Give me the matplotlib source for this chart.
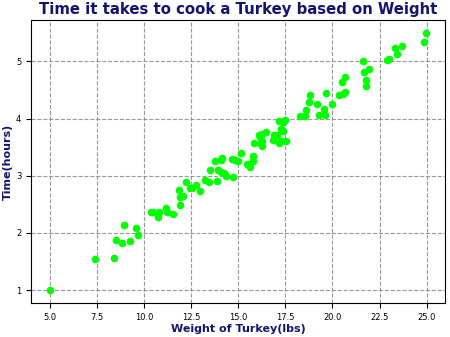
import matplotlib
matplotlib.use("Agg")
import matplotlib.pyplot as plt

# Turkey weight (lbs) and cooking time (hours)
weight = [5.0, 7.37, 8.43, 8.52, 8.84, 8.91, 9.23, 9.58, 9.70,
          10.39, 10.48, 10.77, 10.73, 11.15, 11.22, 11.56, 11.90, 11.93, 12.06,
          11.83, 12.23, 12.44, 12.55, 12.76, 12.97, 13.21, 13.47, 13.49, 13.79,
          13.89, 13.93, 14.07, 14.11, 14.16, 14.23, 14.35, 14.72, 14.69, 14.85,
          14.99, 15.15, 15.45, 15.61, 15.81, 15.77, 15.84, 16.18, 16.25, 16.16,
          16.12, 16.25, 16.46, 16.28, 16.87, 16.90, 17.04, 17.19, 17.29, 17.27,
          17.36, 17.53, 17.19, 17.48, 17.40, 18.28, 18.53, 18.60, 18.76, 18.81,
          19.18, 19.31, 19.55, 19.62, 19.66, 19.98, 20.33, 20.55, 20.67, 20.49,
          20.69, 21.64, 21.67, 21.80, 21.76, 21.94, 22.89, 23.02, 23.32, 23.44,
          23.69, 24.86, 24.98]
hours = [1.00, 1.54, 1.56, 1.88, 1.83, 2.13, 1.86, 2.08, 1.97,
         2.36, 2.36, 2.36, 2.27, 2.44, 2.37, 2.33, 2.49, 2.63, 2.64,
         2.75, 2.89, 2.78, 2.78, 2.84, 2.73, 2.92, 2.89, 3.10, 3.25,
         2.91, 3.10, 3.06, 3.28, 3.31, 3.04, 2.99, 2.98, 3.29, 3.28,
         3.25, 3.40, 3.21, 3.15, 3.35, 3.25, 3.58, 3.57, 3.52, 3.67,
         3.71, 3.73, 3.77, 3.60, 3.62, 3.71, 3.71, 3.58, 3.60, 3.81,
         3.78, 3.61, 3.95, 3.98, 3.94, 4.05, 4.05, 4.15, 4.29, 4.42,
         4.25, 4.06, 4.16, 4.06, 4.44, 4.26, 4.42, 4.43, 4.46, 4.64,
         4.72, 5.00, 4.82, 4.68, 4.57, 4.87, 5.02, 5.04, 5.24, 5.13,
         5.27, 5.33, 5.50]

title_color = "#14146e"

fig, ax = plt.subplots(figsize=(4.5, 3.37), dpi=100)
fig.subplots_adjust(left=0.069, right=0.989, top=0.941, bottom=0.101)

ax.scatter(weight, hours, color="lime", s=20, zorder=3)

ax.grid(True, linestyle="--", color="gray", alpha=0.8, linewidth=0.8)
ax.set_title("Time it takes to cook a Turkey based on Weight",
             fontsize=10.7, fontweight="bold", color=title_color, pad=4)
ax.set_xlabel("Weight of Turkey(lbs)", fontsize=8, fontweight="bold",
              color=title_color, labelpad=2)
ax.set_ylabel("Time(hours)", fontsize=8, fontweight="bold",
              color=title_color, labelpad=2)
ax.tick_params(labelsize=6)

fig.savefig("out.png")
